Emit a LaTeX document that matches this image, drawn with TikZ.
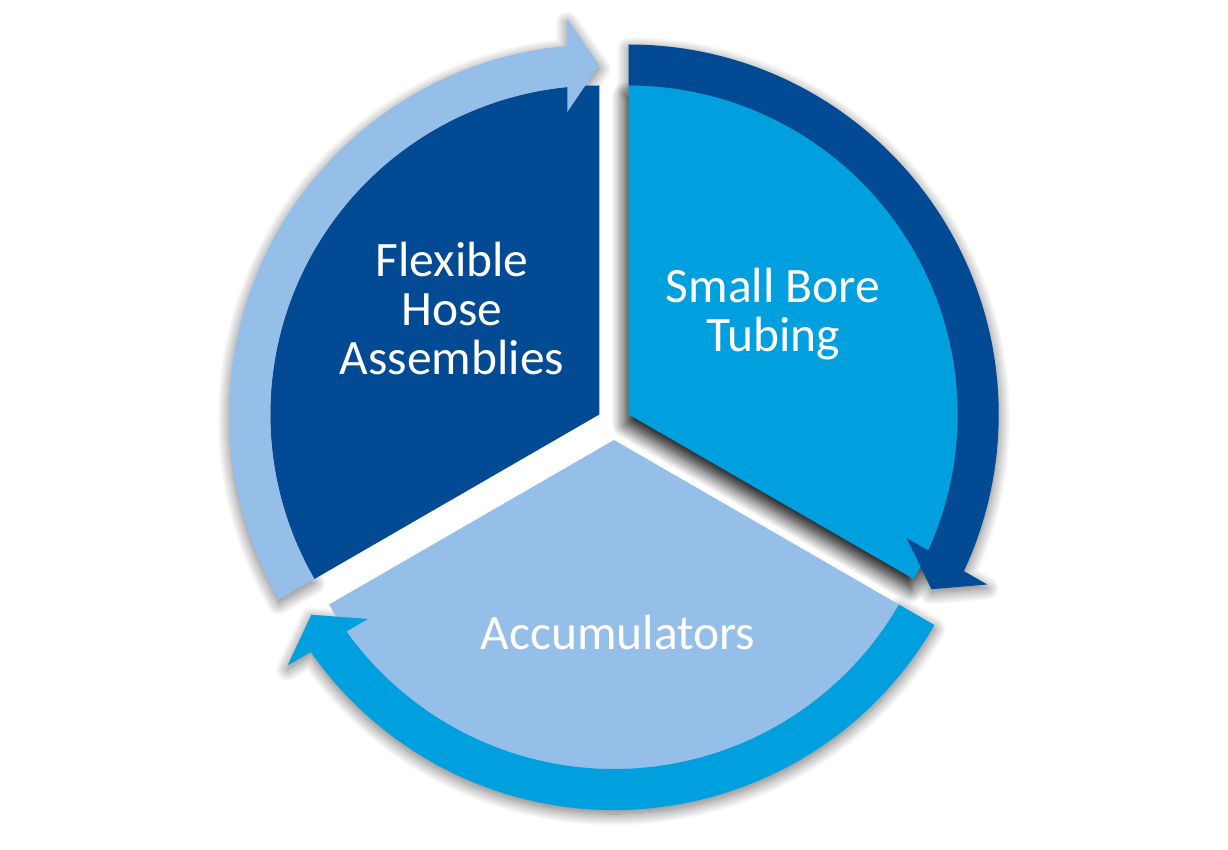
\documentclass[tikz,border=0pt]{standalone}
\usepackage{fontspec}
\setmainfont{Carlito}
\usetikzlibrary{shadows.blur}
\definecolor{cdark}{RGB}{2,74,148}
\definecolor{ccyan}{RGB}{0,160,222}
\definecolor{clight}{RGB}{149,191,232}
% #1 options, #2 centre, #3 end angle (tip), #4 start angle
\newcommand\bandshape[4]{%
  \path[#1,shift={(#2)}] (#4:370pt) arc[start angle=#4,end angle={#3+4.96},radius=370pt]
    -- ({#3+4.63}:396.8pt) -- (#3:349.5pt) -- ({#3+6.04}:304.2pt)
    -- ({#3+5.58}:329pt) arc[start angle={#3+5.58},end angle=#4,radius=329pt] -- cycle;}
\newcommand\sectorshape[4]{%
  \path[#1,shift={(#2)}] (0,0) -- (#3:329pt) arc[start angle=#3,end angle=#4,radius=329pt] -- cycle;}
\begin{document}
\begin{tikzpicture}[x=1pt,y=1pt,
  lbl/.style={text=white,font=\fontsize{49.5}{49}\selectfont,align=center,inner sep=0pt},
  glow/.style={blur shadow={shadow xshift=0pt,shadow yshift=-4pt,shadow blur radius=12pt,shadow blur steps=15,shadow opacity=55}},
  deepglow/.style={blur shadow={shadow xshift=-3pt,shadow yshift=-10pt,shadow blur radius=14pt,shadow blur steps=15,shadow opacity=95}}]
\useasboundingbox (0,0) rectangle (1228,849);
\coordinate (L) at (599.3,434.5);
\coordinate (R) at (628.7,434.5);
\coordinate (B) at (614,409);
% shadows
\sectorshape{deepglow}{R}{-30}{90}
\bandshape{glow}{L}{90}{210}
\bandshape{glow}{R}{-30}{90}
\bandshape{glow}{B}{210}{330}
% sectors
\sectorshape{fill=cdark}{L}{90}{210}
\sectorshape{fill=ccyan}{R}{-30}{90}
\sectorshape{fill=clight}{B}{210}{330}
% arc arrows
\bandshape{fill=clight}{L}{90}{210}
\bandshape{fill=cdark}{R}{-30}{90}
\bandshape{fill=ccyan}{B}{210}{330}
% labels (base anchor = baseline of the last line)
\node[lbl,anchor=base] (flex) at (452,474) {Flexible\\Hose\\Assemblies};
\node[lbl,anchor=base] (sbt) at (773,497) {Small Bore\\Tubing};
\node[lbl,anchor=base] (acc) at (618,200) {Accumulators};
\end{tikzpicture}
\end{document}
